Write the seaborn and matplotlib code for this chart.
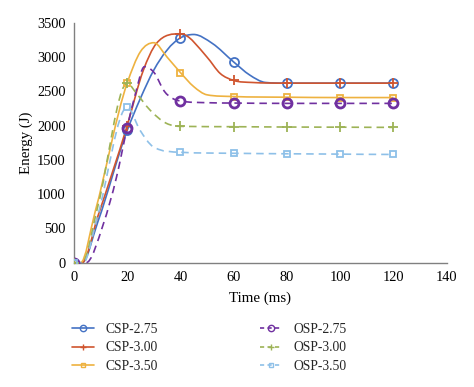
import numpy as np
import pandas as pd
import matplotlib
matplotlib.use("Agg")
import matplotlib.pyplot as plt
from matplotlib.path import Path
from matplotlib.patches import PathPatch
from matplotlib.lines import Line2D
import seaborn as sns

# sampled points (markers every 20 ms)
time_ms = [0, 20, 40, 60, 80, 100, 120]
csp_275 = [0, 1930, 3280, 2930, 2620, 2620, 2620]
csp_300 = [0, 2000, 3340, 2660, 2620, 2620, 2620]
csp_350 = [0, 2620, 2775, 2425, 2415, 2410, 2410]
osp_275 = [0, 1970, 2360, 2330, 2325, 2325, 2325]
osp_300 = [0, 2620, 1990, 1985, 1980, 1978, 1975]
osp_350 = [0, 2270, 1612, 1597, 1590, 1585, 1580]

# extra points
csp_275_tr_t = [3, 9, 25, 30, 45, 52, 66, 72]
csp_275_tr_e = [0, 600, 2400, 2810, 3330, 3200, 2740, 2630]
csp_300_tr_t = [3, 9, 26, 31, 50, 55, 67]
csp_300_tr_e = [0, 680, 2800, 3200, 3000, 2760, 2630]
csp_350_tr_t = [2.5, 8, 25, 30, 35, 45, 50]
csp_350_tr_e = [0, 750, 3080, 3210, 3000, 2570, 2450]
osp_275_tr_t = [4.5, 11, 16, 23, 26.5, 30, 34, 50]
osp_275_tr_e = [0, 560, 1250, 2450, 2860, 2780, 2500, 2335]
osp_300_tr_t = [3, 9, 23.5, 28.6, 34.8]
osp_300_tr_e = [0, 830, 2470, 2227, 2033]
osp_350_tr_t = [3.5, 9, 24.8, 29.8]
osp_350_tr_e = [0, 700, 1935, 1692]

labels = ["CSP-2.75", "CSP-3.00", "CSP-3.50", "OSP-2.75", "OSP-3.00", "OSP-3.50"]
samples = [csp_275, csp_300, csp_350, osp_275, osp_300, osp_350]
traces = [(csp_275_tr_t, csp_275_tr_e), (csp_300_tr_t, csp_300_tr_e),
          (csp_350_tr_t, csp_350_tr_e), (osp_275_tr_t, osp_275_tr_e),
          (osp_300_tr_t, osp_300_tr_e), (osp_350_tr_t, osp_350_tr_e)]
colors = ["#4472C4", "#D0552F", "#EEB240", "#7030A0", "#9DB356", "#8EC0E8"]
markers = ["o", "+", "s", "o", "+", "s"]
dashed = [False, False, False, True, True, True]


def smooth_slopes(x, y):
    # weighted central differences, zero at turning points, limited to avoid overshoot
    h = np.diff(x)
    d = np.diff(y) / h
    m = np.zeros_like(y)
    for k in range(1, len(x) - 1):
        if d[k - 1] * d[k] > 0:
            s = (h[k] * d[k - 1] + h[k - 1] * d[k]) / (h[k - 1] + h[k])
            lim = 3 * min(abs(d[k - 1]), abs(d[k]))
            m[k] = np.sign(s) * min(abs(s), lim)
    m[0] = 0.0
    m[-1] = 0.0
    return m


def smooth_path(x, y):
    m = smooth_slopes(x, y)
    verts = [(x[0], y[0])]
    codes = [Path.MOVETO]
    for i in range(len(x) - 1):
        h = x[i + 1] - x[i]
        verts += [(x[i] + h / 3, y[i] + m[i] * h / 3),
                  (x[i + 1] - h / 3, y[i + 1] - m[i + 1] * h / 3),
                  (x[i + 1], y[i + 1])]
        codes += [Path.CURVE4] * 3
    return Path(verts, codes)


sns.set_theme(style="white")
plt.rcParams["font.family"] = ["Liberation Serif", "DejaVu Serif"]

fig = plt.figure(figsize=(4.74, 3.87), dpi=100)
ax = fig.add_axes([0.156, 0.321, 0.786, 0.620])

handles = []
for lab, ys, (tt, te), c, mk, ds in zip(labels, samples, traces, colors, markers, dashed):
    df = pd.DataFrame({"t": time_ms + tt, "e": ys + te}).sort_values("t")
    x = df["t"].to_numpy(float)
    y = df["e"].to_numpy(float)
    ls = (0, (4.5, 3)) if ds else "-"
    ax.add_patch(PathPatch(smooth_path(x, y), fill=False, edgecolor=c,
                           lw=1.2, linestyle=ls, zorder=2))
    ms = 6.5 if mk == "o" else (5 if mk == "s" else 7)
    mew = 2.0 if (mk == "o" and ds) else 1.3
    sns.lineplot(x=time_ms, y=ys, ax=ax, color=c, marker=mk, linestyle="",
                 markersize=ms, markerfacecolor="none", markeredgecolor=c,
                 markeredgewidth=mew, zorder=3, legend=False)
    handles.append(Line2D([], [], color=c, lw=1.2,
                          linestyle=(0, (2.5, 2)) if ds else "-", marker=mk,
                          markersize=ms * 0.7, markerfacecolor="none",
                          markeredgecolor=c, markeredgewidth=1.0))

ax.set_xlim(0, 140)
ax.set_ylim(0, 3500)
ax.set_xticks(range(0, 141, 20))
ax.set_yticks(range(0, 3501, 500))
for s in ["top", "right"]:
    ax.spines[s].set_visible(False)
for s in ["left", "bottom"]:
    ax.spines[s].set_color("#808080")
    ax.spines[s].set_linewidth(1.0)
ax.tick_params(axis="both", direction="out", length=4, width=1.0,
               color="#808080", labelsize=10.4, labelcolor="black", pad=2)
ax.set_xlabel("Time (ms)", fontsize=10.8, color="black")
ax.set_ylabel("Energy (J)", fontsize=10.8, color="black")
ax.xaxis.set_label_coords(0.5, -0.12)
ax.yaxis.set_label_coords(-0.11, 0.5)

fig.legend(handles=handles, labels=labels, loc="upper left",
           bbox_to_anchor=(0.152, 0.166), ncol=2, frameon=False,
           fontsize=9.8, handlelength=1.6, handletextpad=0.85,
           columnspacing=7.5, labelspacing=0.42, borderpad=0, borderaxespad=0)

fig.savefig("out.png", dpi=100)
